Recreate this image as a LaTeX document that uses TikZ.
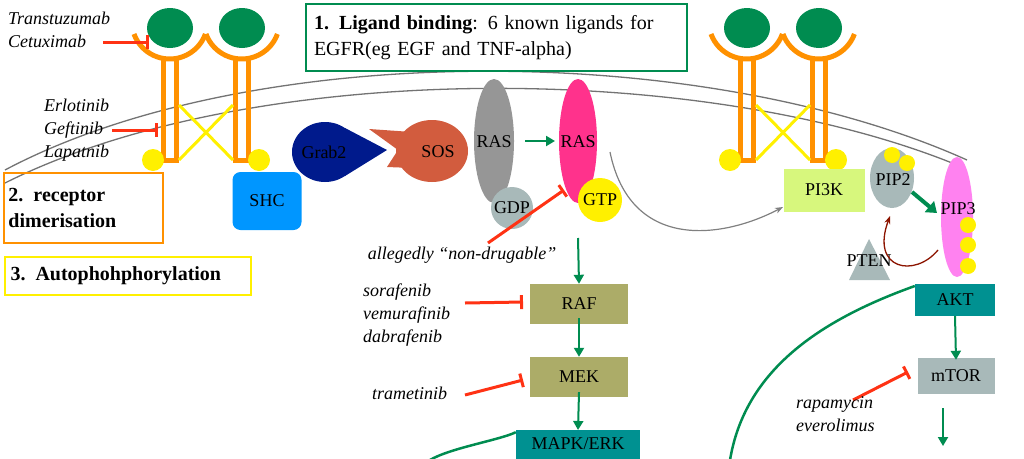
\documentclass[tikz,border=0pt]{standalone}
\usepackage{fontspec}
\setmainfont{Liberation Serif}
\usetikzlibrary{arrows.meta,shapes.geometric}
\definecolor{gr}{RGB}{0,140,80}
\definecolor{rd}{RGB}{255,50,20}
\definecolor{og}{RGB}{255,145,0}
\definecolor{yl}{RGB}{255,240,0}
\definecolor{gb}{RGB}{168,185,185}
\definecolor{teal2}{RGB}{0,145,145}
\definecolor{olive2}{RGB}{172,172,104}
\definecolor{shcc}{RGB}{0,150,255}
\definecolor{grabc}{RGB}{0,26,140}
\definecolor{sosc}{RGB}{210,92,62}
\definecolor{rasg}{RGB}{150,150,150}
\definecolor{rasp}{RGB}{255,50,140}
\definecolor{pik}{RGB}{215,247,125}
\definecolor{pip3c}{RGB}{255,130,240}
\definecolor{dred}{RGB}{140,20,0}
\begin{document}
\begin{tikzpicture}[x=1pt,y=-1pt,
  lab/.style={font=\fontsize{18}{20}\selectfont,inner sep=0},
  drug/.style={font=\fontsize{18}{23}\selectfont\itshape,inner sep=0,align=left},
  inh/.style={draw=rd,line width=3pt,-{Bar[width=14pt]}},
  gar/.style={draw=gr,line width=2pt,-{Triangle[length=9pt,width=10pt]}}]
\useasboundingbox (0,0) rectangle (1024,458);
% membrane
\draw[gray!90!black,line width=1.3pt] (5,170) .. controls (250,40) and (700,40) .. (967,160);
\draw[gray!90!black,line width=1.3pt] (5,183) .. controls (250,60) and (700,60) .. (957,165);
% receptors
\foreach \s in {0,577}{
\begin{scope}[xshift=\s]
 \fill[gr] (170,28) ellipse (23 and 20);
 \fill[gr] (242,28) ellipse (23 and 20);
 \draw[og,line width=5pt] (134,34) arc (160:20:38);
 \draw[og,line width=5pt] (206,34) arc (160:20:38);
 \draw[og,line width=5pt] (163,59)--(163,160)--(176,160)--(176,59);
 \draw[og,line width=5pt] (235,59)--(235,160)--(248,160)--(248,59);
 \draw[yl,line width=3pt] (179,105)--(233,160) (233,105)--(179,160);
 \fill[yl] (153,160) circle (11) (259,160) circle (11);
\end{scope}}
\node[drug,anchor=west] (t1) at (8,30) {Transtuzumab\\Cetuximab};
\node[drug,anchor=west] (t2) at (44,130) {Erlotinib\\Geftinib\\Lapatnib};
\coordinate (i1a) at (103,42); \coordinate (i1b) at (149,42);
\draw[inh] (i1a)--(i1b);
\coordinate (i2a) at (112,130); \coordinate (i2b) at (158,130);
\draw[inh] (i2a)--(i2b);
% boxes
\node[draw=gr,line width=2pt,anchor=north west,minimum width=381,minimum height=67,align=left,text width=365,font=\fontsize{20}{26}\selectfont] (b1) at (305,3) {\textbf{1. Ligand binding}: 6 known ligands for\\EGFR(eg EGF and TNF-alpha)};
\node[draw=og,line width=2pt,anchor=north west,minimum width=159,minimum height=70,align=left,text width=150,font=\fontsize{20}{26}\selectfont\bfseries] (b2) at (3,172) {2. receptor\\dimerisation};
\node[draw=yl,line width=2pt,anchor=north west,minimum width=246,minimum height=38,align=left,text width=235,font=\fontsize{20}{26}\selectfont\bfseries] (b3) at (4,256) {3. Autophohphorylation};
% SHC
\node[fill=shcc,rounded corners=8pt,minimum width=69,minimum height=58,lab] (shc) at (267,201) {SHC};
% Grab2
\fill[grabc] (325,152) ellipse (33 and 30);
\fill[grabc] (345,128)--(387,150)--(345,176)--cycle;
\node[lab] (grab) at (324,152) {Grab2};
% SOS
\fill[sosc] (432,151) ellipse (36 and 31);
\fill[sosc] (369,129)--(412,132)--(412,168)--(387,167)--(398,150)--cycle;
\node[lab] (sos) at (438,152) {SOS};
% RAS
\node[ellipse,fill=rasg,minimum width=40,minimum height=124,inner sep=0] (ras1) at (494,141) {};
\node[lab] at (494,142) {RAS};
\node[circle,fill=gb,minimum size=42,inner sep=0,lab] (gdp) at (512,208) {GDP};
\node[ellipse,fill=rasp,minimum width=38,minimum height=124,inner sep=0] (ras2) at (578,141) {};
\node[lab] at (578,142) {RAS};
\node[circle,fill=yl,minimum size=44,inner sep=0,lab] (gtp) at (600,200) {GTP};
\draw[gar] (525,141)--(555,141);
\coordinate (nda) at (488,243); \coordinate (ndb) at (564,190);
\draw[inh] (nda)--(ndb);
\node[drug,anchor=center] (nd) at (462,255) {allegedly “non-drugable”};
% RAF chain
\node[fill=olive2,minimum width=98,minimum height=40,lab] (raf) at (579,304) {RAF};
\node[fill=olive2,minimum width=98,minimum height=40,lab] (mek) at (579,377) {MEK};
\node[fill=teal2,minimum width=124,minimum height=40,anchor=north,lab,text depth=14] (mapk) at (578,430) {MAPK/ERK};
\coordinate (a0) at (578,238);
\draw[gar] (a0)--(raf.north);
\draw[gar] ([yshift=6]raf.south)--(mek.north);
\draw[gar] ([yshift=5]mek.south)--(mapk.north);
\node[drug,anchor=north west] (dr1) at (363,284) {sorafenib\\vemurafinib\\dabrafenib};
\node[drug,anchor=west] (dr2) at (372,393) {trametinib};
\coordinate (s1) at (465,303); \coordinate (s2) at (523,302);
\draw[inh] (s1)--(s2);
\coordinate (tr1) at (465,395); \coordinate (tr2) at (523,380);
\draw[inh] (tr1)--(tr2);
\draw[gr,line width=2.5pt] ([yshift=18]mapk.west) .. controls (500,440) and (450,448) .. (430,460);
% PI3K path
\draw[gray,line width=1.2pt,-{Stealth[length=8pt]}] (610,152) .. controls (630,250) and (720,240) .. (783,207);
\node[fill=pik,minimum width=81,minimum height=43,lab] (pi3k) at (824,190) {PI3K};
\fill[gb] (892,178) ellipse (22 and 30);
\fill[yl] (892,155) circle (8) (907,163) circle (8);
\node[lab] (pip2) at (893,180) {PIP2};
\fill[pip3c] (957,217) ellipse (16 and 60);
\fill[yl] (968,225) circle (8) (968,245) circle (8) (968,266) circle (8);
\node[lab] (pip3) at (958,209) {PIP3};
\draw[gar,line width=4pt,-{Triangle[length=10pt,width=14pt]}] (912,192)--(937,213);
\fill[gb] (869,239)--(890,280)--(849,280)--cycle;
\node[lab] (pten) at (869,261) {PTEN};
\draw[dred,line width=1.3pt,-{Stealth[length=8pt]}] (938,250) .. controls (915,278) and (870,270) .. (890,216);
\node[fill=teal2,minimum width=80,minimum height=32,lab] (akt) at (955,300) {AKT};
\node[fill=gb,minimum width=77,minimum height=36,lab] (mtor) at (956,376) {mTOR};
\draw[gar] (akt.south) -- ([yshift=-2]mtor.north);
\coordinate (m1) at (943,408); \coordinate (m2) at (943,446);
\draw[gar] (m1)--(m2);
\coordinate (r1) at (853,400); \coordinate (r2) at (908,372);
\draw[inh] (r1)--(r2);
\node[drug,anchor=north west] (rap) at (796,396) {rapamycin\\everolimus};
\draw[gr,line width=2.5pt] ([yshift=14]akt.west) .. controls (820,320) and (745,370) .. (730,460);
\end{tikzpicture}
\end{document}
